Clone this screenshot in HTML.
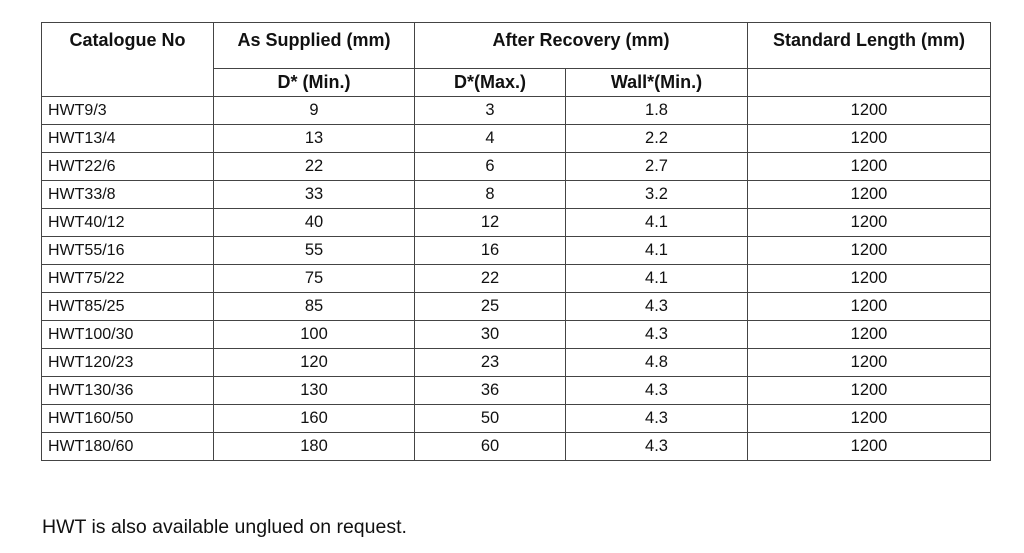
<!DOCTYPE html>
<html><head><meta charset="utf-8"><style>
body{margin:0;width:1024px;height:553px;background:#fff;font-family:"Liberation Sans",sans-serif;color:#111;position:relative;overflow:hidden}
table{position:absolute;left:41px;top:22px;border-collapse:collapse;font-size:16.5px}
td{border:1px solid #444;padding:0;text-align:center;height:27px;line-height:27px}
th{border:1px solid #444;padding:0;font-weight:bold;font-size:18px}
td.l{text-align:left;padding-left:6px;font-size:16px}
.foot{position:absolute;left:42px;top:516px;font-size:19.5px}
</style></head><body>
<table>
<colgroup><col style="width:172px"><col style="width:201px"><col style="width:151px"><col style="width:182px"><col style="width:243px"></colgroup>
<tr style="height:46px"><th rowspan="2" style="vertical-align:top;padding-top:7px">Catalogue No</th><th style="vertical-align:top;padding-top:7px">As Supplied (mm)</th><th colspan="2" style="vertical-align:top;padding-top:7px">After Recovery (mm)</th><th style="vertical-align:top;padding-top:7px">Standard Length (mm)</th></tr>
<tr style="height:28px"><th>D* (Min.)</th><th>D*(Max.)</th><th>Wall*(Min.)</th><th></th></tr>
<tr><td class="l">HWT9/3</td><td>9</td><td>3</td><td>1.8</td><td>1200</td></tr>
<tr><td class="l">HWT13/4</td><td>13</td><td>4</td><td>2.2</td><td>1200</td></tr>
<tr><td class="l">HWT22/6</td><td>22</td><td>6</td><td>2.7</td><td>1200</td></tr>
<tr><td class="l">HWT33/8</td><td>33</td><td>8</td><td>3.2</td><td>1200</td></tr>
<tr><td class="l">HWT40/12</td><td>40</td><td>12</td><td>4.1</td><td>1200</td></tr>
<tr><td class="l">HWT55/16</td><td>55</td><td>16</td><td>4.1</td><td>1200</td></tr>
<tr><td class="l">HWT75/22</td><td>75</td><td>22</td><td>4.1</td><td>1200</td></tr>
<tr><td class="l">HWT85/25</td><td>85</td><td>25</td><td>4.3</td><td>1200</td></tr>
<tr><td class="l">HWT100/30</td><td>100</td><td>30</td><td>4.3</td><td>1200</td></tr>
<tr><td class="l">HWT120/23</td><td>120</td><td>23</td><td>4.8</td><td>1200</td></tr>
<tr><td class="l">HWT130/36</td><td>130</td><td>36</td><td>4.3</td><td>1200</td></tr>
<tr><td class="l">HWT160/50</td><td>160</td><td>50</td><td>4.3</td><td>1200</td></tr>
<tr><td class="l">HWT180/60</td><td>180</td><td>60</td><td>4.3</td><td>1200</td></tr>
</table>
<div class="foot">HWT is also available unglued on request.</div>
</body></html>
